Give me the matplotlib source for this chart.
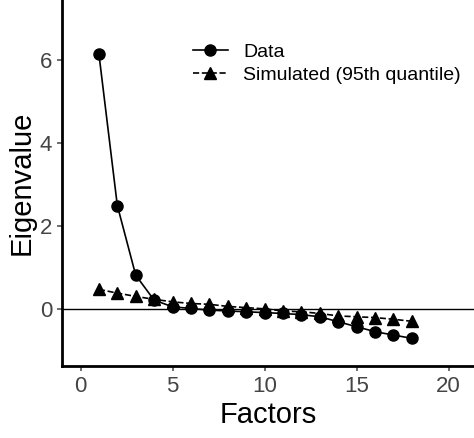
import matplotlib
matplotlib.use("Agg")
import matplotlib.pyplot as plt

factors = list(range(1, 19))
data = [6.15, 2.5, 0.82, 0.22, 0.06, 0.02, -0.02, -0.04, -0.06, -0.08, -0.1, -0.13,
        -0.18, -0.3, -0.42, -0.54, -0.62, -0.7]
simulated = [0.48, 0.39, 0.31, 0.24, 0.18, 0.14, 0.12, 0.07, 0.04, 0.01, -0.04, -0.06,
             -0.1, -0.16, -0.18, -0.2, -0.24, -0.29]

plt.rcParams["font.family"] = ["Liberation Sans", "DejaVu Sans"]
fig = plt.figure(figsize=(4.74, 4.38), dpi=100)
ax = fig.add_axes([0.131, 0.164, 0.87, 0.836])

ax.axhline(0, color="black", lw=1)
ax.plot(factors, data, "k-o", ms=8, lw=1.2, label="Data")
ax.plot(factors, simulated, "k--^", ms=8, lw=1.2, label="Simulated (95th quantile)")

ax.set_xlim(-1, 21.4)
ax.set_ylim(-1.37, 7.45)
ax.set_xticks([0, 5, 10, 15, 20])
ax.set_yticks([0, 2, 4, 6])
ax.tick_params(labelsize=16, colors="#555555", labelcolor="#444444", width=1.2)
for s in ["top", "right"]:
    ax.spines[s].set_visible(False)
for s in ["left", "bottom"]:
    ax.spines[s].set_linewidth(2)
ax.set_xlabel("Factors", fontsize=21, labelpad=3)
ax.set_ylabel("Eigenvalue", fontsize=21, labelpad=3)
ax.legend(loc="upper right", bbox_to_anchor=(1.01, 0.93), frameon=False, fontsize=14,
          handlelength=1.8, labelspacing=0.3)

fig.savefig("out.png", dpi=100)
